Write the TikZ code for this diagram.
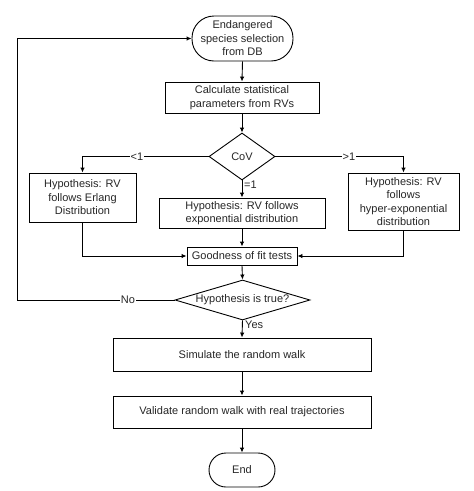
\documentclass[tikz,border=0pt]{standalone}
\usepackage{fontspec}
\setmainfont{Liberation Sans}
\usetikzlibrary{shapes.geometric,arrows.meta}
\begin{document}
\begin{tikzpicture}[x=1pt,y=-1pt,
  every node/.style={font=\fontsize{11}{13.5}\selectfont, text=black!85},
  box/.style={draw=black, line width=0.9pt, inner sep=0pt, align=center},
  term/.style={box, rounded corners=#1},
  dia/.style={draw=black, line width=0.9pt, diamond, inner sep=0pt, align=center},
  conn/.style={draw=black, line width=0.9pt, -{Latex[length=5pt,width=4.5pt]}},
  lbl/.style={fill=white, inner sep=1pt}
]
\useasboundingbox (0,0) rectangle (474,491);
\node[term=22pt, minimum width=101pt, minimum height=45pt] (start) at (242.5,38.5) {Endangered\\species selection\\from DB};
\node[box, minimum width=154pt, minimum height=31pt] (calc) at (242,97.5) {Calculate statistical\\parameters from RVs};
\node[dia, shape aspect=1.4, minimum width=66pt, minimum height=47pt] (cov) at (242,156.5) {CoV};
\node[box, minimum width=107pt, minimum height=49pt] (erl) at (82.5,197.5) {Hypothesis: RV\\follows Erlang\\Distribution};
\node[box, minimum width=166pt, minimum height=30pt] (exp) at (242,213) {Hypothesis: RV follows\\exponential distribution};
\node[box, minimum width=111pt, minimum height=57pt] (hyp) at (403.5,201.5) {Hypothesis: RV\\follows\\hyper-exponential\\distribution};
\node[box, minimum width=110pt, minimum height=18pt] (good) at (242,256) {Goodness of fit tests};
\node[dia, shape aspect=3.4, minimum width=135pt, minimum height=40pt] (test) at (242.5,300) {Hypothesis is true?};
\node[box, minimum width=258pt, minimum height=33pt] (sim) at (242,354.5) {Simulate the random walk};
\node[box, minimum width=258pt, minimum height=32pt] (val) at (242,412) {Validate random walk with real trajectories};
\node[term=17pt, minimum width=66pt, minimum height=34pt] (end) at (242,470) {End};
\coordinate (loopc) at (17,300);

\draw[conn] (start.south) -- (calc.north);
\draw[conn] (calc.south) -- (cov.north);
\draw[conn] (cov.west) -| (erl.north);
\draw[conn] (cov.east) -| (hyp.north);
\draw[conn] (cov.south) -- (exp.north);
\draw[conn] (erl.south) |- (good.west);
\draw[conn] (hyp.south) |- (good.east);
\draw[conn] (exp.south) -- (good.north);
\draw[conn] (good.south) -- (test.north);
\draw[conn] (test.west) -- (loopc) |- (start.west);
\draw[conn] (test.south) -- (sim.north);
\draw[conn] (sim.south) -- (val.north);
\draw[conn] (val.south) -- (end.north);

\node[lbl] (ltl) at (137,156.5) {<1};
\node[lbl] (gtl) at (349,156.5) {>1};
\node[lbl] (nol) at (128,300) {No};
\node[inner sep=1pt, anchor=west] (eql) at (243,185) {=1};
\node[inner sep=1pt, anchor=west] (yesl) at (244,325) {Yes};
\end{tikzpicture}
\end{document}
